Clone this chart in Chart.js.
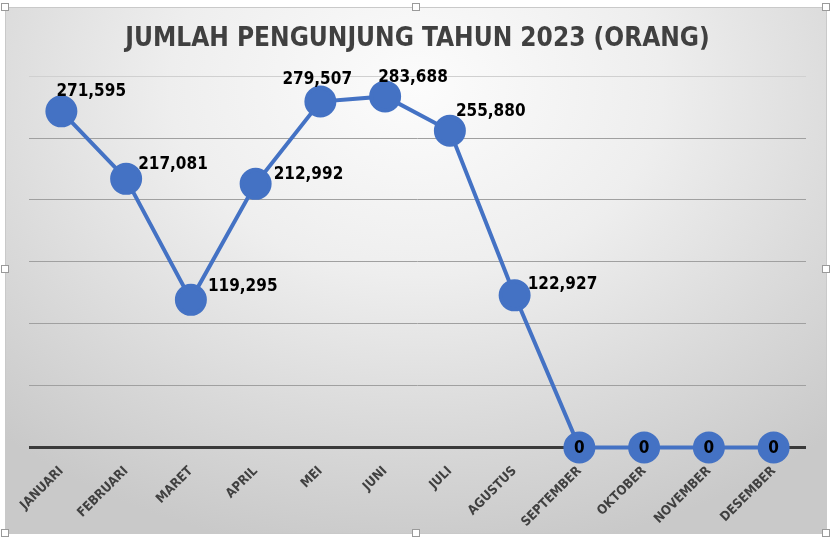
<!DOCTYPE html>
<html>
<head>
<meta charset="utf-8">
<script src="https://cdn.jsdelivr.net/npm/chart.js@4/dist/chart.umd.min.js"></script>
<style>
  html, body { margin: 0; padding: 0; background: #fff; }
  #page { position: relative; width: 832px; height: 538px; overflow: hidden; }
  #frame {
    position: absolute; left: 5px; top: 7px; width: 820px; height: 525px;
    border: 1px solid #c9c9c9;
    background: radial-gradient(ellipse 75% 90% at 50% 15%, #fcfcfc 0%, #eeeeee 40%, #dadada 72%, #c9c9c9 100%);
  }
  .handle { position: absolute; width: 6px; height: 6px; background: #fff; border: 1px solid #9a9a9a; }
  canvas { position: absolute; left: 0; top: 0; }
</style>
</head>
<body>
<div id="page">
  <div id="frame"></div>
  <div class="handle" style="left:1px;top:3px"></div>
  <div class="handle" style="left:412px;top:3px"></div>
  <div class="handle" style="left:822px;top:3px"></div>
  <div class="handle" style="left:1px;top:265px"></div>
  <div class="handle" style="left:822px;top:265px"></div>
  <div class="handle" style="left:1px;top:529px"></div>
  <div class="handle" style="left:412px;top:529px"></div>
  <div class="handle" style="left:822px;top:529px"></div>
  <canvas id="chart" width="832" height="538"></canvas>
</div>
<script>
const months = ['JANUARI', 'FEBRUARI', 'MARET', 'APRIL', 'MEI', 'JUNI', 'JULI',
  'AGUSTUS', 'SEPTEMBER', 'OKTOBER', 'NOVEMBER', 'DESEMBER'];
const visitors = [271595, 217081, 119295, 212992, 279507, 283688, 255880, 122927, 0, 0, 0, 0];
const yMax = 300000;
const yStep = 50000;

const FONT = '"Liberation Sans Narrow", "DejaVu Sans Condensed", "Roboto", sans-serif';
const BLUE = '#4472C4';

// where each value label sits relative to its point (dx to text start, dy to text middle)
const labelShift = [[-5, -20], [12, -14], [17, -13], [18, -9], [-38, -22], [-7, -19],
  [6, -19], [13, -11], [0, 1], [0, 1], [0, 1], [0, 1]];

const valueLabels = {
  id: 'valueLabels',
  afterDatasetsDraw(chart) {
    const ctx = chart.ctx;
    const meta = chart.getDatasetMeta(0);
    ctx.save();
    ctx.font = 'bold 17px ' + FONT;
    ctx.fillStyle = '#000';
    ctx.textBaseline = 'middle';
    meta.data.forEach((pt, i) => {
      const v = visitors[i];
      const text = v.toLocaleString('en-US');
      const [dx, dy] = labelShift[i];
      ctx.textAlign = v === 0 ? 'center' : 'left';
      ctx.fillText(text, pt.x + dx, pt.y + dy);
    });
    ctx.restore();
  }
};

new Chart(document.getElementById('chart'), {
  type: 'line',
  data: {
    labels: months,
    datasets: [{
      data: visitors,
      borderColor: BLUE,
      borderWidth: 4,
      backgroundColor: BLUE,
      pointBackgroundColor: BLUE,
      pointBorderColor: BLUE,
      pointRadius: 14,
      pointHoverRadius: 14,
      tension: 0,
      clip: false
    }]
  },
  options: {
    responsive: false,
    animation: false,
    layout: { padding: { left: 29, right: 26, top: 8, bottom: 0 } },
    plugins: {
      legend: { display: false },
      tooltip: { enabled: false },
      title: {
        display: true,
        text: 'JUMLAH PENGUNJUNG TAHUN 2023 (ORANG)',
        color: '#404040',
        font: { family: FONT, size: 26, weight: 'bold' },
        padding: { top: 16, bottom: 21 }
      }
    },
    scales: {
      x: {
        offset: true,
        grid: { display: false },
        border: { display: false },
        ticks: {
          autoSkip: false,
          maxRotation: 45,
          minRotation: 45,
          padding: 8,
          color: '#404040',
          font: { family: FONT, size: 13, weight: 'bold' }
        }
      },
      y: {
        min: 0,
        max: yMax,
        afterFit: axis => { axis.width = 0; },
        border: { display: false },
        ticks: { display: false, stepSize: yStep },
        grid: {
          drawTicks: false,
          color: c => c.tick.value === 0 ? '#3a3a3a' : (c.tick.value === yMax ? '#d0d0d0' : '#a0a0a0'),
          lineWidth: c => c.tick.value === 0 ? 3 : 1
        }
      }
    }
  },
  plugins: [valueLabels]
});
</script>
</body>
</html>
